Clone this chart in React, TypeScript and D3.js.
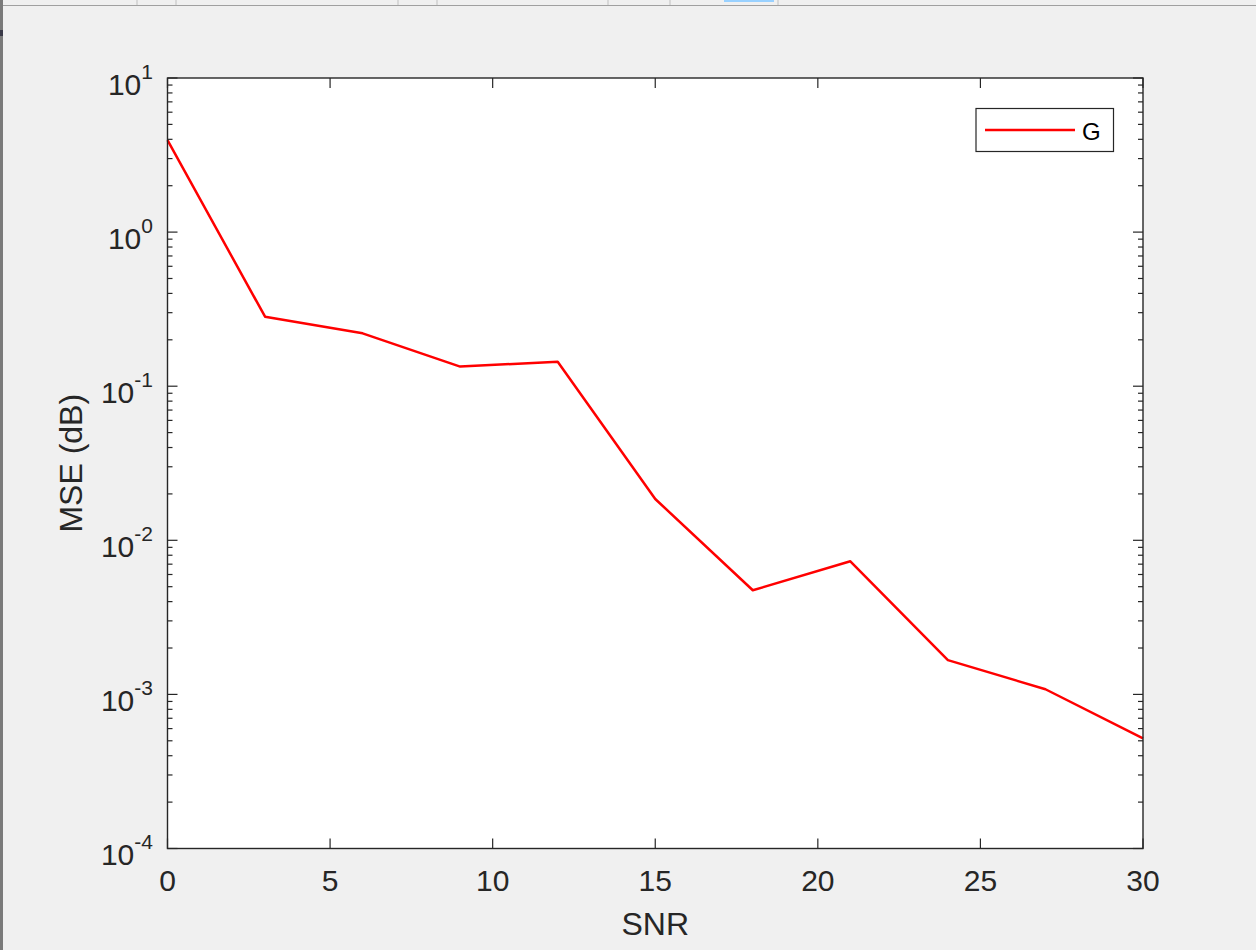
import { useEffect, useRef } from 'react'
import * as d3 from 'd3'

const SNR = [0, 3, 6, 9, 12, 15, 18, 21, 24, 27, 30]
const MSE = [3.95, 0.2825, 0.2203, 0.134, 0.1442, 0.01854, 0.00474, 0.00731, 0.00167, 0.00108, 0.000519]
const X_TICKS = [0, 5, 10, 15, 20, 25, 30]
const Y_EXPONENTS = [1, 0, -1, -2, -3, -4]
const SERIES_NAME = 'G'

const W = 1256
const H = 950
const FONT = '"Liberation Sans", Arial, Helvetica, sans-serif'

export default function App() {
  const svgRef = useRef<SVGSVGElement>(null)

  useEffect(() => {
    const svgEl = svgRef.current
    if (!svgEl) return
    const svg = d3.select(svgEl)
    svg.selectAll('*').remove()

    const left = 167.5, right = 1143, top = 78, bottom = 848.5
    const axisColor = '#262626'

    const x = d3.scaleLinear().domain([0, 30]).range([left, right])
    const y = d3.scaleLog().domain([1e-4, 10]).range([bottom, top])

    // window background
    svg.append('rect').attr('width', W).attr('height', H).attr('fill', '#f0f0f0')

    // window chrome artifacts
    svg.append('line').attr('x1', 3).attr('x2', W).attr('y1', 5.5).attr('y2', 5.5)
      .attr('stroke', '#a0a0a0').attr('stroke-width', 1)
    ;[137, 176, 398, 437, 608, 670, 778].forEach((tx) => {
      svg.append('line').attr('x1', tx).attr('x2', tx).attr('y1', 0).attr('y2', 5)
        .attr('stroke', '#c0c0c0').attr('stroke-width', 1)
    })
    svg.append('rect').attr('x', 724).attr('y', 0).attr('width', 50).attr('height', 2).attr('fill', '#99d1ff')
    svg.append('rect').attr('x', 0).attr('y', 0).attr('width', 3).attr('height', H).attr('fill', '#7a7a7a')
    svg.append('rect').attr('x', 0).attr('y', 30).attr('width', 3).attr('height', 6).attr('fill', '#3a3a48')

    // plot area
    svg.append('rect').attr('x', left).attr('y', top).attr('width', right - left).attr('height', bottom - top)
      .attr('fill', '#fff')

    // data line
    const line = d3.line<number>().x((_, i) => x(SNR[i])).y((d) => y(d))
    svg.append('path').datum(MSE).attr('d', line).attr('fill', 'none')
      .attr('stroke', '#ff0000').attr('stroke-width', 2.5).attr('stroke-linejoin', 'round')

    // ticks
    const tickG = svg.append('g').attr('stroke', axisColor).attr('stroke-width', 1.2)
    X_TICKS.forEach((t) => {
      const px = x(t)
      tickG.append('line').attr('x1', px).attr('x2', px).attr('y1', bottom).attr('y2', bottom - 10)
      tickG.append('line').attr('x1', px).attr('x2', px).attr('y1', top).attr('y2', top + 10)
    })
    Y_EXPONENTS.forEach((e) => {
      const py = y(Math.pow(10, e))
      tickG.append('line').attr('x1', left).attr('x2', left + 10).attr('y1', py).attr('y2', py)
      tickG.append('line').attr('x1', right).attr('x2', right - 10).attr('y1', py).attr('y2', py)
      if (e > -4) {
        for (let m = 2; m <= 9; m++) {
          const my = y(m * Math.pow(10, e - 1))
          tickG.append('line').attr('x1', left).attr('x2', left + 5).attr('y1', my).attr('y2', my)
          tickG.append('line').attr('x1', right).attr('x2', right - 5).attr('y1', my).attr('y2', my)
        }
      }
    })

    // axes box
    svg.append('rect').attr('x', left).attr('y', top).attr('width', right - left).attr('height', bottom - top)
      .attr('fill', 'none').attr('stroke', axisColor).attr('stroke-width', 1.4)

    // x tick labels
    X_TICKS.forEach((t) => {
      svg.append('text').attr('x', x(t)).attr('y', 891).attr('text-anchor', 'middle')
        .attr('font-family', FONT).attr('font-size', 30).attr('fill', axisColor).text(String(t))
    })

    // y tick labels
    Y_EXPONENTS.forEach((e) => {
      const py = y(Math.pow(10, e))
      const t = svg.append('text').attr('x', 153).attr('y', py + 16.5).attr('text-anchor', 'end')
        .attr('font-family', FONT).attr('font-size', 30).attr('fill', axisColor)
      t.append('tspan').text('10')
      t.append('tspan').attr('dy', -16).attr('font-size', 21).text(String(e))
    })

    // axis labels
    svg.append('text').attr('x', (left + right) / 2).attr('y', 935).attr('text-anchor', 'middle')
      .attr('font-family', FONT).attr('font-size', 32).attr('fill', axisColor).text('SNR')
    svg.append('text').attr('transform', `translate(82,${(top + bottom) / 2}) rotate(-90)`)
      .attr('text-anchor', 'middle').attr('font-family', FONT).attr('font-size', 32)
      .attr('fill', axisColor).text('MSE (dB)')

    // legend
    const lg = svg.append('g')
    lg.append('rect').attr('x', 976).attr('y', 108.5).attr('width', 137.5).attr('height', 43)
      .attr('fill', '#fff').attr('stroke', axisColor).attr('stroke-width', 1.2)
    lg.append('line').attr('x1', 985).attr('x2', 1075).attr('y1', 130).attr('y2', 130)
      .attr('stroke', '#ff0000').attr('stroke-width', 2.5)
    lg.append('text').attr('x', 1082).attr('y', 140).attr('font-family', FONT).attr('font-size', 24)
      .attr('fill', '#000').text(SERIES_NAME)
  }, [])

  return (
    <svg ref={svgRef} width={W} height={H}
      style={{ position: 'absolute', left: 0, top: 0, display: 'block' }} />
  )
}
